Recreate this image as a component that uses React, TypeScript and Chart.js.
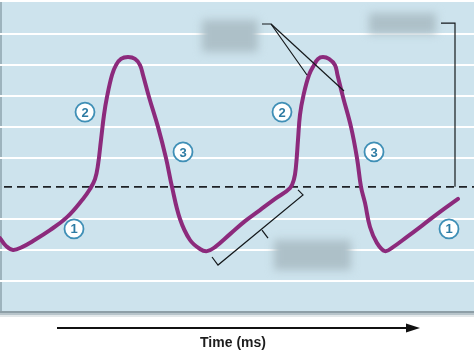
import React, { useEffect, useRef } from "react";
import { Chart, registerables } from "chart.js";

Chart.register(...registerables);

// Time (ms) and membrane potential (mV) of the pacemaker trace
const timeMs = [0, 6, 13, 22, 33, 50, 67, 83, 90, 95, 98, 101, 104, 107, 112, 116, 121, 128, 135, 140, 143, 149, 158, 166, 172, 180, 190, 200, 207, 215, 230, 245, 260, 275, 290, 294, 296, 298, 300, 303.5, 309, 314, 318, 323, 329, 335, 337.5, 343, 351, 357, 361, 365, 370, 377, 385, 393, 407, 423, 440, 458];
const potentialMv = [-56.1, -58.6, -59.9, -59.0, -57.0, -53.5, -49.3, -43.4, -40.2, -37.0, -32.4, -24.3, -16.2, -10.4, -3.3, -0.1, 1.9, 2.5, 1.9, -0.1, -3.3, -10.4, -20.1, -30.2, -39.5, -49.9, -56.7, -59.6, -60.3, -59.0, -54.8, -50.6, -47.0, -43.4, -39.9, -37.0, -32.8, -24.3, -16.2, -9.8, -3.3, -0.1, 1.9, 2.5, 1.9, -0.1, -3.3, -10.4, -20.1, -30.2, -39.5, -44.7, -52.5, -57.7, -60.3, -59.0, -55.7, -51.8, -47.6, -43.4];

const thresholdMv = -39.5;
const yMin = -80;
const yMax = 20;
const yStep = 10;

// Phase markers
const phaseLabels = ["2", "3", "1", "2", "3", "1"];
const phaseX = [85, 183, 74, 282, 374, 449];
const phaseY = [-15.3, -28.2, -53.1, -15.3, -28.2, -53.1];

// Blanked-out label boxes [x0, x1, yTop, yBottom] in data units
const boxX0 = [199, 366, 271];
const boxX1 = [261, 439, 354];
const boxYTop = [15.5, 17.7, -55.7];
const boxYBottom = [3.2, 9.0, -67.4];

const axisTitle = "Time (ms)";

export default function App() {
  const ref = useRef<HTMLCanvasElement | null>(null);

  useEffect(() => {
    const canvas = ref.current;
    if (!canvas) return;

    const bgPlugin = {
      id: "bg",
      beforeDraw(chart: any) {
        const { ctx, chartArea } = chart;
        ctx.save();
        ctx.fillStyle = "#cde3ed";
        ctx.fillRect(chartArea.left, chartArea.top - 1, chartArea.right - chartArea.left, chartArea.bottom - chartArea.top + 1);
        ctx.fillStyle = "#9db3bd";
        ctx.fillRect(chartArea.left, chartArea.top - 1, 2, chartArea.bottom - chartArea.top + 1);
        ctx.fillStyle = "#8e9fa7";
        ctx.fillRect(chartArea.left, chartArea.bottom - 1, chartArea.right - chartArea.left, 2);
        ctx.fillStyle = "#b7c4ca";
        ctx.fillRect(chartArea.left, chartArea.bottom + 1, chartArea.right - chartArea.left, 2);
        ctx.fillStyle = "#e3e8ea";
        ctx.fillRect(chartArea.left, chartArea.bottom + 3, chartArea.right - chartArea.left, 2);
        ctx.restore();
      },
      beforeDatasetsDraw(chart: any) {
        const { ctx, chartArea, scales } = chart;
        const y = scales.y.getPixelForValue(thresholdMv);
        ctx.save();
        ctx.strokeStyle = "#1e2226";
        ctx.lineWidth = 1.6;
        ctx.setLineDash([8, 5]);
        ctx.beginPath();
        ctx.moveTo(chartArea.left + 4, y);
        ctx.lineTo(chartArea.right, y);
        ctx.stroke();
        ctx.restore();
      },
      afterDatasetsDraw(chart: any) {
        const { ctx, chartArea, scales } = chart;
        const X = (v: number) => scales.x.getPixelForValue(v);
        const Y = (v: number) => scales.y.getPixelForValue(v);
        ctx.save();
        for (let i = 0; i < boxX0.length; i++) {
          ctx.save();
          ctx.filter = "blur(4px)";
          ctx.fillStyle = "#adc0c8";
          ctx.fillRect(X(boxX0[i]) + 3, Y(boxYTop[i]) + 3, X(boxX1[i]) - X(boxX0[i]) - 6, Y(boxYBottom[i]) - Y(boxYTop[i]) - 6);
          ctx.restore();
        }
        ctx.strokeStyle = "#15191c";
        ctx.lineWidth = 1.2;
        ctx.lineJoin = "miter";
        const seg = (pts: number[][]) => {
          ctx.beginPath();
          pts.forEach((p, i) => (i === 0 ? ctx.moveTo(X(p[0]), Y(p[1])) : ctx.lineTo(X(p[0]), Y(p[1]))));
          ctx.stroke();
        };
        seg([[262, 13.2], [271, 13.2], [307, -3.3]]);
        seg([[271, 13.2], [344, -8.5]]);
        seg([[441, 13.5], [455, 13.5], [455, thresholdMv]]);
        seg([[212, -62.2], [218, -64.8], [303, -42.1], [298, -40.5]]);
        seg([[262, -53.5], [268, -56.1]]);
        for (let i = 0; i < phaseLabels.length; i++) {
          const cx = X(phaseX[i]);
          const cy = Y(phaseY[i]);
          ctx.beginPath();
          ctx.arc(cx, cy, 9.5, 0, Math.PI * 2);
          ctx.fillStyle = "#ffffff";
          ctx.fill();
          ctx.strokeStyle = "#3f8fb6";
          ctx.lineWidth = 1.8;
          ctx.stroke();
          ctx.fillStyle = "#2d7ba3";
          ctx.font = "bold 13px 'Liberation Sans', Arial, sans-serif";
          ctx.textAlign = "center";
          ctx.textBaseline = "middle";
          ctx.fillText(phaseLabels[i], cx, cy + 1);
        }
        const ay = chartArea.bottom + 16;
        ctx.strokeStyle = "#111";
        ctx.lineWidth = 2;
        ctx.beginPath();
        ctx.moveTo(X(57), ay);
        ctx.lineTo(X(410), ay);
        ctx.stroke();
        ctx.fillStyle = "#111";
        ctx.beginPath();
        ctx.moveTo(X(420), ay);
        ctx.lineTo(X(406), ay - 4.5);
        ctx.lineTo(X(406), ay + 4.5);
        ctx.closePath();
        ctx.fill();
        ctx.font = "bold 14px 'Liberation Sans', Arial, sans-serif";
        ctx.fillStyle = "#1d1d1d";
        ctx.textAlign = "center";
        ctx.textBaseline = "middle";
        ctx.fillText(axisTitle, X(233), chartArea.bottom + 31);
        ctx.restore();
      },
    };

    const chart = new Chart(canvas, {
      type: "line",
      data: {
        datasets: [
          {
            data: timeMs.map((t, i) => ({ x: t, y: potentialMv[i] })),
            borderColor: "#8c2a7c",
            borderWidth: 4,
            pointRadius: 0,
            tension: 0.4,
            fill: false,
            borderCapStyle: "round",
            borderJoinStyle: "round",
          },
        ],
      },
      options: {
        responsive: false,
        animation: false,
        layout: { padding: { top: 3, bottom: 48, left: 0, right: 0 } },
        plugins: { legend: { display: false }, tooltip: { enabled: false } },
        scales: {
          x: { type: "linear", min: 0, max: 474, display: false },
          y: {
            min: yMin,
            max: yMax,
            ticks: { display: false, stepSize: yStep },
            border: { display: false },
            grid: {
              drawTicks: false,
              lineWidth: 2,
              color: (c: any) => {
                const v = c.tick ? c.tick.value : 0;
                if (v === yMin || v === yMax || v === -40) return "rgba(0,0,0,0)";
                return "#ffffff";
              },
            },
          },
        },
      },
      plugins: [bgPlugin],
    });
    return () => chart.destroy();
  }, []);

  return (
    <canvas
      ref={ref}
      width={474}
      height={360}
      style={{ position: "absolute", left: 0, top: 0, width: 474, height: 360 }}
    />
  );
}
